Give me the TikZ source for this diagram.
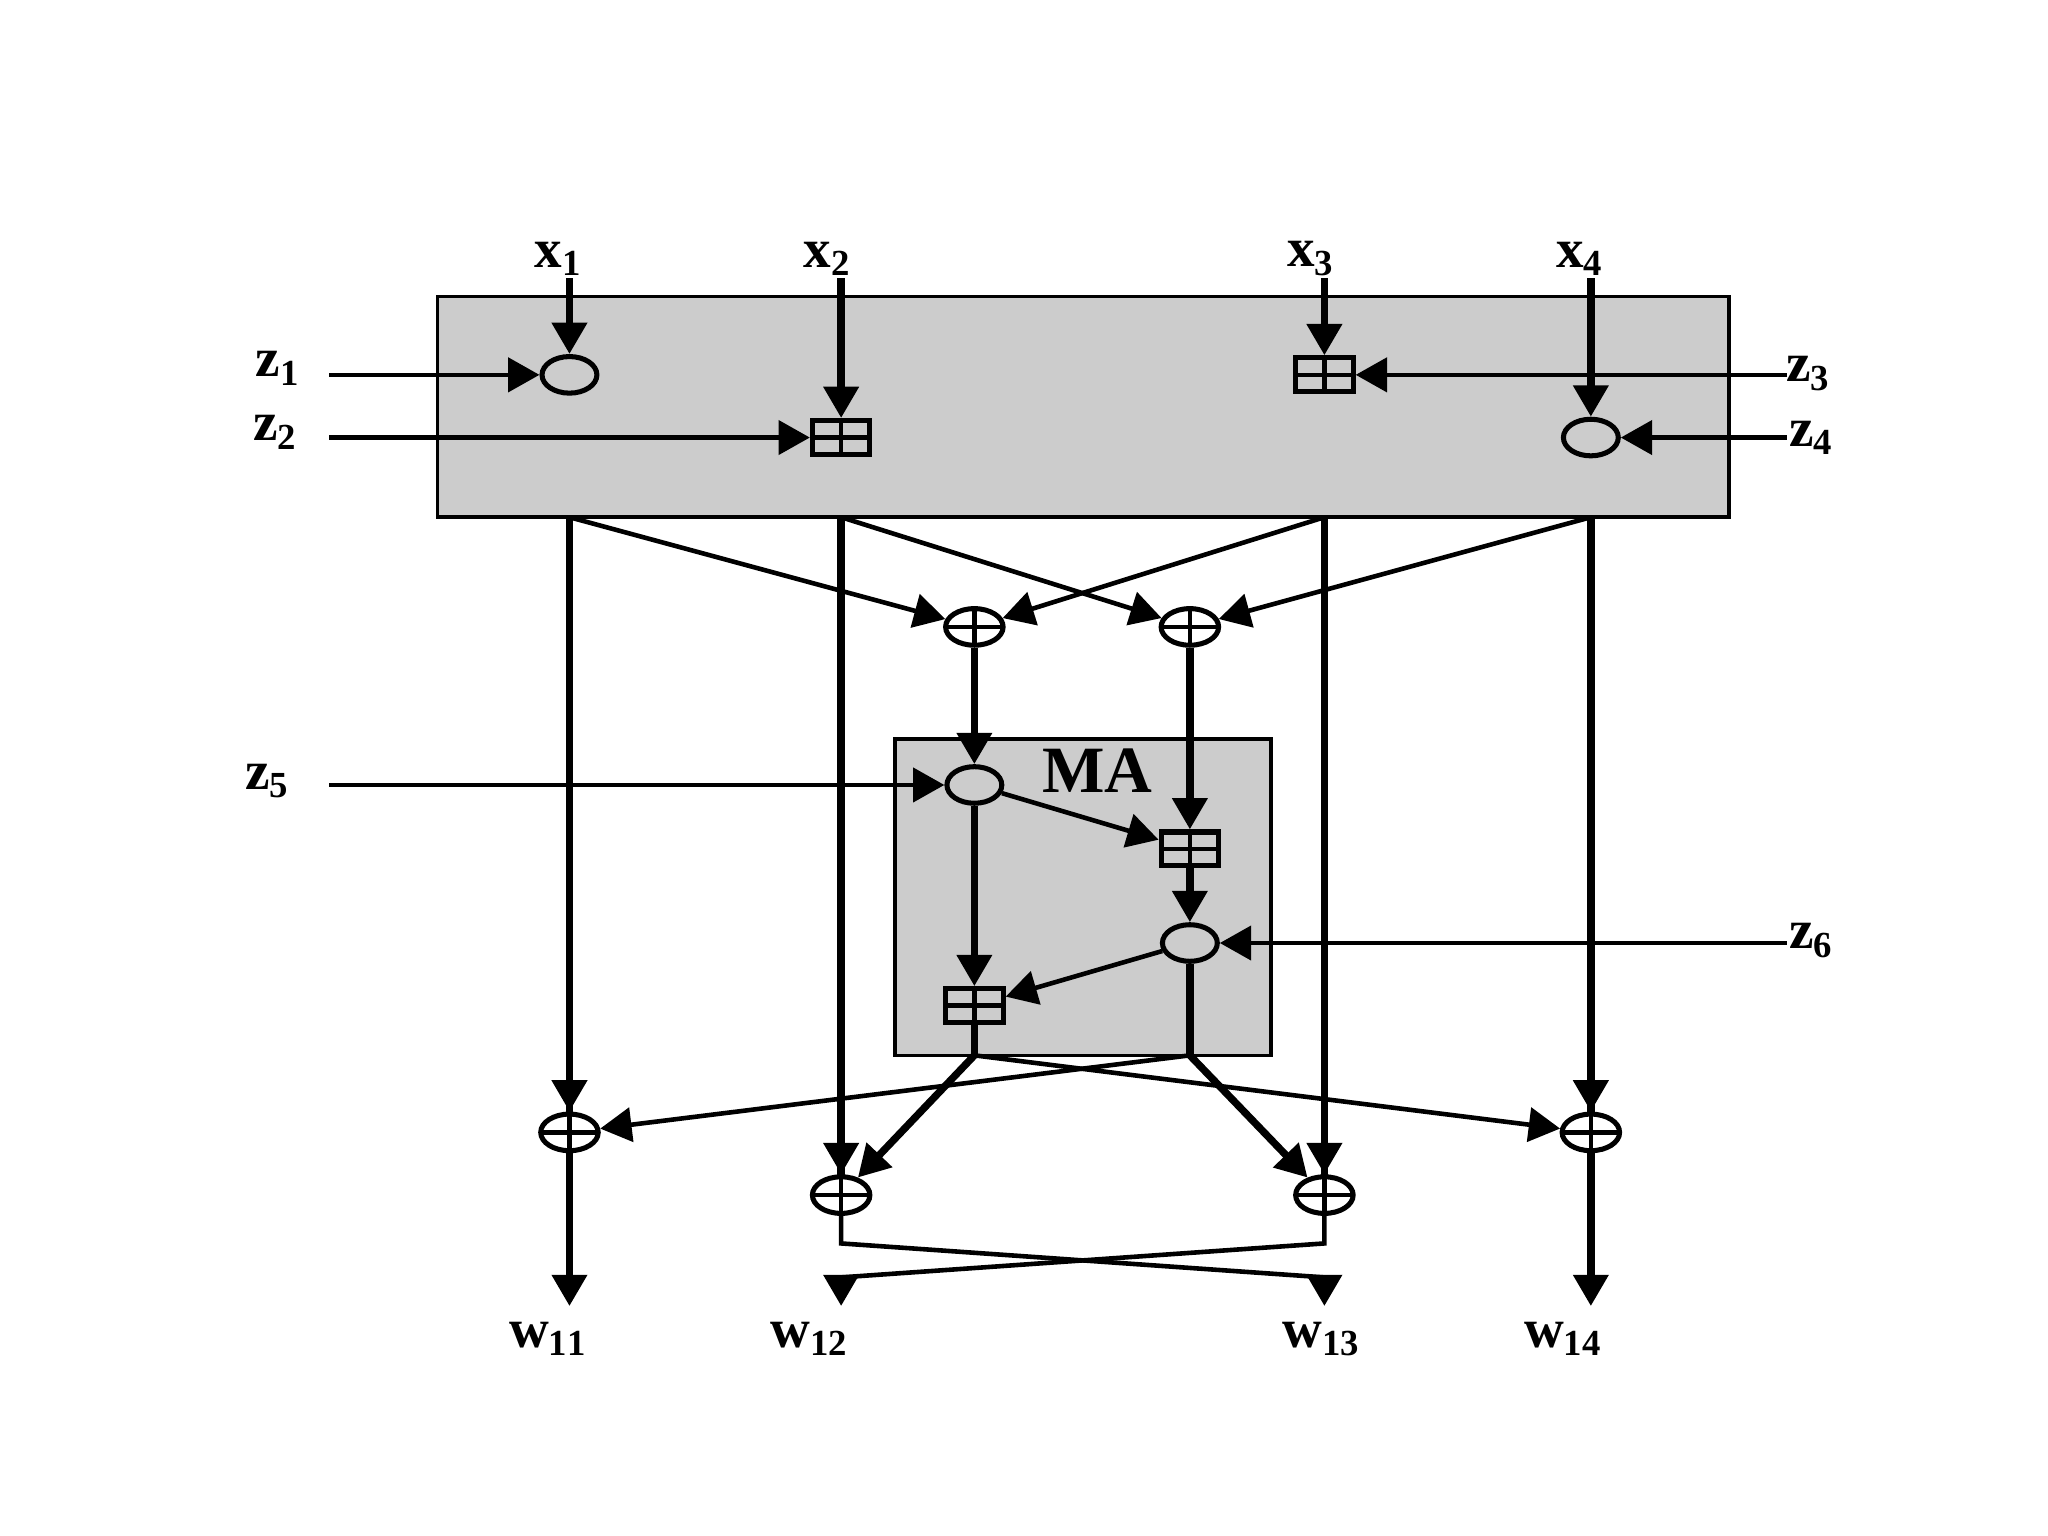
\documentclass[tikz,border=0pt]{standalone}
\usepackage{fontspec}
\setmainfont{Liberation Serif}
\usetikzlibrary{shapes.geometric,arrows.meta}

\tikzset{
  arr/.style={-{Triangle[length=2.4mm,width=2.6mm]}},
  mul/.style={draw, ellipse, line width=1.1pt, minimum width=4.2mm, minimum height=2.8mm, inner sep=0pt, fill=gray!40,
    path picture={\fill (path picture bounding box.center) circle (0.25pt);}},
  addm/.style={draw, rectangle, line width=1.1pt, minimum width=4.4mm, minimum height=2.6mm, inner sep=0pt, fill=gray!40,
    path picture={\draw[line width=1pt] (path picture bounding box.north) -- (path picture bounding box.south)
      (path picture bounding box.west) -- (path picture bounding box.east);}},
  xorn/.style={draw, ellipse, line width=1.1pt, minimum width=4.4mm, minimum height=2.8mm, inner sep=0pt, fill=white,
    path picture={\draw[line width=1pt] (path picture bounding box.north) -- (path picture bounding box.south)
      (path picture bounding box.west) -- (path picture bounding box.east);}},
  lab/.style={font=\bfseries\large, inner sep=1pt},
  thick line/.style={line width=1.6pt},
  thin line/.style={line width=1pt},
}

\begin{document}
\begin{tikzpicture}[x=0.01cm, y=-0.01cm]
  \useasboundingbox (0,0) rectangle (1568,1176);

  % boxes
  \draw[fill=gray!40, line width=0.8pt] (335,227) rectangle (1324,396);
  \draw[fill=gray!40, line width=0.8pt] (685,566) rectangle (973,808);
  \node[font=\bfseries\Large] (ma) at (840,590) {MA};

  % labels
  \node[lab] (x1) at (428,198) {x$_{\bf 1}$};
  \node[lab] (x2) at (634,198) {x$_{\bf 2}$};
  \node[lab] (x3) at (1004,198) {x$_{\bf 3}$};
  \node[lab] (x4) at (1210,198) {x$_{\bf 4}$};
  \node[lab] (z1) at (213,282) {z$_{\bf 1}$};
  \node[lab] (z2) at (211,331) {z$_{\bf 2}$};
  \node[lab] (z3) at (1385,286) {z$_{\bf 3}$};
  \node[lab] (z4) at (1387,335) {z$_{\bf 4}$};
  \node[lab] (z5) at (205,598) {z$_{\bf 5}$};
  \node[lab] (z6) at (1387,720) {z$_{\bf 6}$};
  \node[lab] (w1) at (420,1025) {w$_{\bf 11}$};
  \node[lab] (w2) at (620,1025) {w$_{\bf 12}$};
  \node[lab] (w3) at (1012,1025) {w$_{\bf 13}$};
  \node[lab] (w4) at (1197,1025) {w$_{\bf 14}$};

  % free ends
  \coordinate (t1) at (436,213); \coordinate (t2) at (644,213);
  \coordinate (t3) at (1014,213); \coordinate (t4) at (1218,213);
  \coordinate (s1) at (252,287); \coordinate (s2) at (252,335);
  \coordinate (s3) at (1368,287); \coordinate (s4) at (1368,335);
  \coordinate (s5) at (252,601); \coordinate (s6) at (1368,722);
  \coordinate (b1) at (436,396); \coordinate (b2) at (644,396);
  \coordinate (b3) at (1014,396); \coordinate (b4) at (1218,396);
  \coordinate (c1) at (746,808); \coordinate (c2) at (911,808);
  \coordinate (e1) at (436,1000); \coordinate (e2) at (644,1000);
  \coordinate (e3) at (1014,1000); \coordinate (e4) at (1218,1000);
  \coordinate (k2) at (644,952); \coordinate (k3) at (1014,952);
  \coordinate (l2) at (644,978); \coordinate (l3) at (1014,978);

  % vertical paths (under the nodes)
  \draw[thick line] (b1) -- (436,867) (b2) -- (644,915) (b3) -- (1014,915) (b4) -- (1218,867);

  % operations
  \node[mul]  (m1) at (436,287) {};
  \node[addm] (a3) at (1014,287) {};
  \node[addm] (a2) at (644,335) {};
  \node[mul]  (m4) at (1218,335) {};
  \node[xorn] (p1) at (746,480) {};
  \node[xorn] (p2) at (911,480) {};
  \node[mul]  (m5) at (746,601) {};
  \node[addm] (a6) at (911,650) {};
  \node[mul]  (m6) at (911,722) {};
  \node[addm] (a5) at (746,770) {};
  \node[xorn] (o1) at (436,867) {};
  \node[xorn] (o4) at (1218,867) {};
  \node[xorn] (o2) at (644,915) {};
  \node[xorn] (o3) at (1014,915) {};

  % inputs
  \draw[thick line, arr] (t1) -- (m1);
  \draw[thick line, arr] (t2) -- (a2);
  \draw[thick line, arr] (t3) -- (a3);
  \draw[thick line, arr] (t4) -- (m4);
  \draw[thin line, arr] (s1) -- (m1);
  \draw[thin line, arr] (s2) -- (a2);
  \draw[thin line, arr] (s3) -- (a3);
  \draw[thin line, arr] (s4) -- (m4);
  \draw[thin line, arr] (s5) -- (m5);
  \draw[thin line, arr] (s6) -- (m6);

  % to the middle
  \draw[thin line, arr] (b1) -- (p1);
  \draw[thin line, arr] (b3) -- (p1);
  \draw[thin line, arr] (b2) -- (p2);
  \draw[thin line, arr] (b4) -- (p2);

  % MA
  \draw[thick line, arr] (p1) -- (m5);
  \draw[thick line, arr] (p2) -- (a6);
  \draw[thin line, arr] (m5) -- (a6);
  \draw[thick line, arr] (a6) -- (m6);
  \draw[thick line, arr] (m5) -- (a5);
  \draw[thin line, arr] (m6) -- (a5);
  \draw[thick line] (a5) -- (c1);
  \draw[thick line] (m6) -- (c2);

  % output mixing
  \draw[thin line, arr] (c1) -- (o4);
  \draw[thin line, arr] (c2) -- (o1);
  \draw[thick line, arr] (c1) -- (o2);
  \draw[thick line, arr] (c2) -- (o3);
  \draw[thick line, arr] (436,850) -- (o1);
  \draw[thick line, arr] (1218,850) -- (o4);
  \draw[thick line, arr] (644,898) -- (o2);
  \draw[thick line, arr] (1014,898) -- (o3);

  % outputs
  \draw[thick line, arr] (o1) -- (e1);
  \draw[thick line, arr] (o4) -- (e4);
  \draw[thin line] (o2) -- (k2) -- (l3);
  \draw[thin line] (o3) -- (k3) -- (l2);
  \draw[thick line, arr] (l2) -- (e2);
  \draw[thick line, arr] (l3) -- (e3);

\end{tikzpicture}
\end{document}
